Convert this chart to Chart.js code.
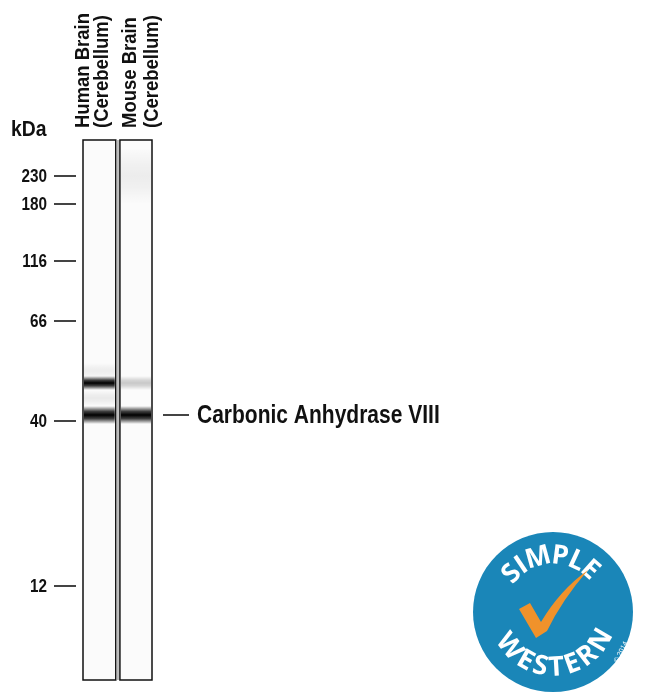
<!DOCTYPE html>
<html>
<head>
<meta charset="utf-8">
<script src="https://cdn.jsdelivr.net/npm/chart.js@4.4.1/dist/chart.umd.min.js"></script>
<style>
  html, body { margin: 0; padding: 0; background: #fff; }
  #wrap { width: 650px; height: 696px; }
</style>
</head>
<body>
<div id="wrap"><canvas id="blot" width="650" height="696"></canvas></div>
<script>
// Lanes
const lanes = ['Human Brain\n(Cerebellum)', 'Mouse Brain\n(Cerebellum)'];
// Molecular weight markers (kDa) and migration distance from top of lane
const markerLabels = ['230', '180', '116', '66', '40', '12'];
const markerPos = [36, 64, 121, 181, 281, 446];
// Bands: lane index, migration, intensity, width
const bandLane = [0, 1, 0, 1, 0, 0, 1];
const bandPos = [243, 243, 275, 275, 231, 258, 36];
const bandInt = [1.0, 0.2, 1.0, 1.0, 0.06, 0.07, 0.06];
const bandWidth = [3.5, 3.5, 4.5, 4.5, 4, 4, 14];
const targetName = 'Carbonic Anhydrase VIII';
const targetPos = 275;

const font = '"Liberation Sans", Arial, sans-serif';

// condensed text: squeeze horizontally
function narrowText(ctx, txt, x, y, sx, align) {
  ctx.save();
  ctx.translate(x, y);
  ctx.scale(sx, 1);
  ctx.textAlign = align;
  ctx.fillText(txt, 0, 0);
  ctx.restore();
}

const blotPlugin = {
  id: 'blot',
  afterDatasetsDraw(chart) {
    const ctx = chart.ctx;
    const x = chart.scales.x, y = chart.scales.y;
    const top = chart.chartArea.top, bottom = chart.chartArea.bottom;
    ctx.save();
    // lanes
    const laneEdges = [[x.getPixelForValue(0), x.getPixelForValue(0.95)], [x.getPixelForValue(1.07), x.getPixelForValue(2)]];
    laneEdges.forEach(([l, r]) => {
      ctx.fillStyle = '#fbfbfb';
      ctx.fillRect(l, top, r - l, bottom - top);
    });
    // bands
    bandLane.forEach((li, i) => {
      const [l, r] = laneEdges[li];
      const cy = y.getPixelForValue(bandPos[i]);
      const w = bandWidth[i];
      const g = ctx.createLinearGradient(0, cy - w * 2, 0, cy + w * 2);
      const a = bandInt[i];
      g.addColorStop(0, 'rgba(0,0,0,0)');
      g.addColorStop(0.3, `rgba(0,0,0,${a * 0.75})`);
      g.addColorStop(0.5, `rgba(0,0,0,${a})`);
      g.addColorStop(0.7, `rgba(0,0,0,${a * 0.75})`);
      g.addColorStop(1, 'rgba(0,0,0,0)');
      ctx.fillStyle = g;
      ctx.fillRect(l + 1, cy - w * 2, r - l - 2, w * 4);
    });
    laneEdges.forEach(([l, r]) => {
      ctx.strokeStyle = '#111';
      ctx.lineWidth = 1.5;
      ctx.strokeRect(l, top, r - l, bottom - top);
    });
    ctx.fillStyle = '#bbb';
    ctx.fillRect(laneEdges[0][1] + 1, top, laneEdges[1][0] - laneEdges[0][1] - 2, bottom - top);
    // markers
    ctx.fillStyle = '#111';
    ctx.strokeStyle = '#444';
    ctx.lineWidth = 2;
    ctx.font = 'bold 18px ' + font;
    ctx.textBaseline = 'middle';
    markerLabels.forEach((lab, i) => {
      const py = y.getPixelForValue(markerPos[i]);
      narrowText(ctx, lab, 47, py + 1, 0.85, 'right');
      ctx.beginPath(); ctx.moveTo(54, py); ctx.lineTo(76, py); ctx.stroke();
    });
    ctx.font = 'bold 22px ' + font;
    narrowText(ctx, 'kDa', 11, 130, 0.88, 'left');
    // target label
    const ty = y.getPixelForValue(targetPos);
    ctx.beginPath(); ctx.moveTo(163, ty); ctx.lineTo(189, ty); ctx.stroke();
    ctx.font = 'bold 25px ' + font;
    narrowText(ctx, targetName, 197, ty + 1, 0.84, 'left');
    // lane headers
    ctx.font = 'bold 21px ' + font;
    const headX = [[83, 102], [130, 152]];
    lanes.forEach((lab, i) => {
      lab.split('\n').forEach((ln, j) => {
        ctx.save();
        ctx.translate(headX[i][j], 128);
        ctx.rotate(-Math.PI / 2);
        narrowText(ctx, ln, 0, 0, 0.88, 'left');
        ctx.restore();
      });
    });
    // logo
    const cx = 553, cy = 612, R = 80;
    ctx.fillStyle = '#1a86b8';
    ctx.beginPath(); ctx.arc(cx, cy, R, 0, Math.PI * 2); ctx.fill();
    ctx.fillStyle = '#fff';
    ctx.font = 'bold 27px "Open Sans", "DejaVu Sans", sans-serif';
    ctx.textAlign = 'center';
    // place letters along arc by their measured widths
    const arcText = (txt, rad, mid, outward) => {
      const ws = [...txt].map(c => ctx.measureText(c).width + 1);
      const total = ws.reduce((a, b) => a + b, 0) / rad;
      let acc = 0;
      [...txt].forEach((c, k) => {
        const off = (acc + ws[k] / 2) / rad;
        acc += ws[k];
        const ang = outward ? mid - total / 2 + off : mid + total / 2 - off;
        ctx.save();
        ctx.translate(cx + rad * Math.cos(ang), cy + rad * Math.sin(ang));
        ctx.rotate(outward ? ang + Math.PI / 2 : ang - Math.PI / 2);
        ctx.fillText(c, 0, 0);
        ctx.restore();
      });
    };
    arcText('SIMPLE', 56, -Math.PI / 2 - 0.05, true);
    arcText('WESTERN', 56, Math.PI / 2 - 0.05, false);
    ctx.font = '7px sans-serif';
    ctx.save(); ctx.translate(cx + 68, cy + 40); ctx.rotate(-1.1); ctx.fillText('© 2014', 0, 0); ctx.restore();
    ctx.fillStyle = '#f0922b';
    ctx.beginPath();
    ctx.moveTo(519, 609); ctx.lineTo(530, 603); ctx.lineTo(541, 622);
    ctx.quadraticCurveTo(560, 590, 588, 570);
    ctx.quadraticCurveTo(562, 600, 547, 631);
    ctx.lineTo(536, 638);
    ctx.closePath(); ctx.fill();
    ctx.restore();
  }
};

new Chart(document.getElementById('blot'), {
  type: 'scatter',
  data: { datasets: [{ data: [] }] },
  options: {
    responsive: false,
    animation: false,
    layout: { padding: { left: 83, right: 498, top: 140, bottom: 16 } },
    plugins: { legend: { display: false }, tooltip: { enabled: false } },
    scales: {
      x: { type: 'linear', min: 0, max: 2, display: false },
      y: { type: 'linear', min: 0, max: 540, reverse: true, display: false }
    }
  },
  plugins: [blotPlugin]
});
</script>
</body>
</html>
